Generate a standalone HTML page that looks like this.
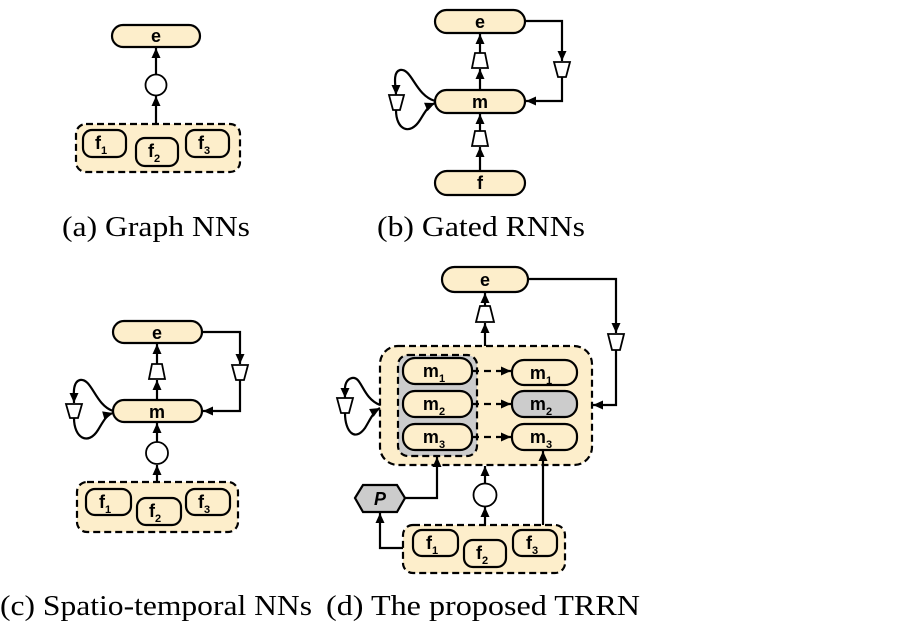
<!DOCTYPE html>
<html><head><meta charset="utf-8"><style>
html,body{margin:0;padding:0;background:#fff;}
svg{display:block;}
.n{fill:#fdeecb;stroke:#000;stroke-width:2.2;}
.g{fill:#cccccc;stroke:#000;stroke-width:2.2;}
.w{fill:#fff;stroke:#000;stroke-width:1.8;}
.l{fill:none;stroke:#000;stroke-width:2.2;}
.d{fill:#fdeecb;stroke:#000;stroke-width:2.2;stroke-dasharray:7,4;}
.t{font-family:"Liberation Sans",Arial,sans-serif;font-weight:bold;font-size:18px;text-anchor:middle;}
.s{font-family:"Liberation Sans",Arial,sans-serif;font-weight:bold;font-size:11px;}
.c{font-family:"Liberation Serif","Times New Roman",serif;font-size:28px;}
</style></head><body>
<svg width="920" height="629" viewBox="0 0 920 629" xmlns="http://www.w3.org/2000/svg">
<defs>
<marker id="A" viewBox="0 0 10 10" refX="10" refY="5" markerWidth="11" markerHeight="10" orient="auto" markerUnits="userSpaceOnUse"><path d="M0,0.5 L10,5 L0,9.5 z" fill="#000"/></marker></defs>

<!-- (a) -->
<rect class="n" x="112" y="25" width="88" height="22" rx="11"/><text class="t" x="156" y="42">e</text>
<line class="l" x1="156" y1="125" x2="156" y2="96" marker-end="url(#A)"/>
<circle class="w" cx="156" cy="85" r="10.5"/>
<line class="l" x1="156" y1="74" x2="156" y2="48" marker-end="url(#A)"/>
<rect class="d" x="76" y="124" width="164" height="48" rx="10"/>
<rect class="n" x="83" y="130" width="43" height="27" rx="9"/><text class="t" x="101" y="149">f<tspan class="s" dy="5">1</tspan></text>
<rect class="n" x="136" y="138" width="42" height="28" rx="9"/><text class="t" x="154" y="157">f<tspan class="s" dy="5">2</tspan></text>
<rect class="n" x="186" y="130" width="43" height="27" rx="9"/><text class="t" x="204" y="149">f<tspan class="s" dy="5">3</tspan></text>
<text class="c" x="62" y="236" textLength="188" lengthAdjust="spacingAndGlyphs">(a)  Graph NNs</text>

<!-- (b) -->
<rect class="n" x="435" y="10" width="90" height="23" rx="11.5"/><text class="t" x="480" y="28">e</text>
<rect class="n" x="435" y="90" width="90" height="23" rx="11.5"/><text class="t" x="480" y="108">m</text>
<rect class="n" x="435" y="171" width="90" height="24" rx="12"/><text class="t" x="480" y="189">f</text>
<line class="l" x1="480" y1="171" x2="480" y2="147" marker-end="url(#A)"/>
<path class="w" d="M475,131 L485,131 L488,146 L472,146 Z"/>
<line class="l" x1="480" y1="131" x2="480" y2="114" marker-end="url(#A)"/>
<line class="l" x1="480" y1="90" x2="480" y2="69" marker-end="url(#A)"/>
<path class="w" d="M475,53 L485,53 L488,68 L472,68 Z"/>
<line class="l" x1="480" y1="53" x2="480" y2="34" marker-end="url(#A)"/>
<path class="l" d="M525,21 L562,21 L562,61" marker-end="url(#A)"/>
<path class="w" d="M554,62 L570,62 L566,77 L558,77 Z"/>
<path class="l" d="M562,77 L562,101 L526,101" marker-end="url(#A)"/>
<path class="l" d="M435,101 C415,95 412,68 400,70 C392,72 396,88 396,95" marker-end="url(#A)"/>
<path class="w" d="M389,95 L404,95 L400,110 L393,110 Z"/>
<path class="l" d="M396,110 C396,130 410,136 420,120 C425,112 428,106 435,103" marker-end="url(#A)"/>
<text class="c" x="377" y="236" textLength="208" lengthAdjust="spacingAndGlyphs">(b)  Gated RNNs</text>

<!-- (c) -->
<rect class="n" x="113" y="321" width="89" height="22" rx="11"/><text class="t" x="157" y="339">e</text>
<rect class="n" x="113" y="400" width="89" height="22" rx="11"/><text class="t" x="157" y="418">m</text>
<line class="l" x1="157" y1="482" x2="157" y2="465" marker-end="url(#A)"/>
<circle class="w" cx="157" cy="453" r="11"/>
<line class="l" x1="157" y1="442" x2="157" y2="423" marker-end="url(#A)"/>
<line class="l" x1="157" y1="400" x2="157" y2="380" marker-end="url(#A)"/>
<path class="w" d="M152,364 L162,364 L165,379 L149,379 Z"/>
<line class="l" x1="157" y1="364" x2="157" y2="344" marker-end="url(#A)"/>
<path class="l" d="M202,332 L240,332 L240,364" marker-end="url(#A)"/>
<path class="w" d="M232,365 L248,365 L244,380 L236,380 Z"/>
<path class="l" d="M240,380 L240,411 L203,411" marker-end="url(#A)"/>
<path class="l" d="M113,411 C95,405 92,378 80,380 C72,382 74,396 74,403" marker-end="url(#A)"/>
<path class="w" d="M66,404 L82,404 L78,418 L70,418 Z"/>
<path class="l" d="M74,418 C74,438 88,446 98,430 C103,422 106,415 113,413" marker-end="url(#A)"/>
<rect class="d" x="77" y="482" width="161" height="50" rx="10"/>
<rect class="n" x="86" y="489" width="45" height="26" rx="9"/><text class="t" x="105" y="508">f<tspan class="s" dy="5">1</tspan></text>
<rect class="n" x="137" y="498" width="44" height="27" rx="9"/><text class="t" x="155" y="517">f<tspan class="s" dy="5">2</tspan></text>
<rect class="n" x="186" y="489" width="44" height="26" rx="9"/><text class="t" x="204" y="508">f<tspan class="s" dy="5">3</tspan></text>
<text class="c" x="0" y="615" textLength="312" lengthAdjust="spacingAndGlyphs">(c)  Spatio-temporal NNs</text>

<!-- (d) -->
<rect class="n" x="442" y="267" width="86" height="25" rx="12.5"/><text class="t" x="485" y="286">e</text>
<rect class="d" x="380" y="346" width="212" height="119" rx="18"/>
<rect class="g" x="398" y="355" width="79" height="101" rx="10" stroke-dasharray="7,4"/>
<rect class="n" x="403" y="358" width="69" height="26" rx="12"/><text class="t" x="434" y="377">m<tspan class="s" dy="5">1</tspan></text>
<rect class="n" x="403" y="391" width="69" height="26" rx="12"/><text class="t" x="434" y="410">m<tspan class="s" dy="5">2</tspan></text>
<rect class="n" x="403" y="424" width="69" height="26" rx="12"/><text class="t" x="434" y="443">m<tspan class="s" dy="5">3</tspan></text>
<rect class="n" x="512" y="360" width="65" height="25" rx="12"/><text class="t" x="541" y="379">m<tspan class="s" dy="5">1</tspan></text>
<rect class="g" x="512" y="391" width="65" height="26" rx="12"/><text class="t" x="541" y="410">m<tspan class="s" dy="5">2</tspan></text>
<rect class="n" x="512" y="424" width="65" height="26" rx="12"/><text class="t" x="541" y="443">m<tspan class="s" dy="5">3</tspan></text>
<g class="l" stroke-dasharray="7,5">
<line x1="472" y1="371" x2="511" y2="371" marker-end="url(#A)"/>
<line x1="472" y1="404" x2="511" y2="404" marker-end="url(#A)"/>
<line x1="472" y1="437" x2="511" y2="437" marker-end="url(#A)"/>
</g>
<line class="l" x1="485" y1="346" x2="485" y2="323" marker-end="url(#A)"/>
<path class="w" d="M480,306 L490,306 L494,322 L476,322 Z"/>
<line class="l" x1="485" y1="306" x2="485" y2="293" marker-end="url(#A)"/>
<path class="l" d="M528,279 L616,279 L616,333" marker-end="url(#A)"/>
<path class="w" d="M608,334 L624,334 L620,350 L612,350 Z"/>
<path class="l" d="M616,350 L616,405 L593,405" marker-end="url(#A)"/>
<path class="l" d="M380,405 C362,398 362,376 352,378 C343,380 345,392 345,398" marker-end="url(#A)"/>
<path class="w" d="M337,398 L353,398 L349,413 L341,413 Z"/>
<path class="l" d="M345,413 C345,432 355,442 365,428 C370,420 373,412 380,408" marker-end="url(#A)"/>
<line class="l" x1="485" y1="525" x2="485" y2="507" marker-end="url(#A)"/>
<circle class="w" cx="485" cy="495" r="11.5"/>
<line class="l" x1="485" y1="483" x2="485" y2="466" marker-end="url(#A)"/>
<path class="g" d="M355,498 L363,485 L397,485 L405,498 L397,512 L363,512 Z"/>
<text class="t" x="380" y="505" font-style="italic">P</text>
<path class="l" d="M405,498 L437,498 L437,457" marker-end="url(#A)"/>
<path class="l" d="M403,548 L380,548 L380,513" marker-end="url(#A)"/>
<line class="l" x1="543" y1="525" x2="543" y2="451" marker-end="url(#A)"/>
<rect class="d" x="403" y="525" width="162" height="48" rx="10"/>
<rect class="n" x="413" y="530" width="45" height="26" rx="9"/><text class="t" x="432" y="549">f<tspan class="s" dy="5">1</tspan></text>
<rect class="n" x="464" y="540" width="42" height="27" rx="9"/><text class="t" x="482" y="559">f<tspan class="s" dy="5">2</tspan></text>
<rect class="n" x="513" y="530" width="44" height="26" rx="9"/><text class="t" x="532" y="549">f<tspan class="s" dy="5">3</tspan></text>
<text class="c" x="326" y="615" textLength="314" lengthAdjust="spacingAndGlyphs">(d)  The proposed TRRN</text>
</svg>
</body></html>
